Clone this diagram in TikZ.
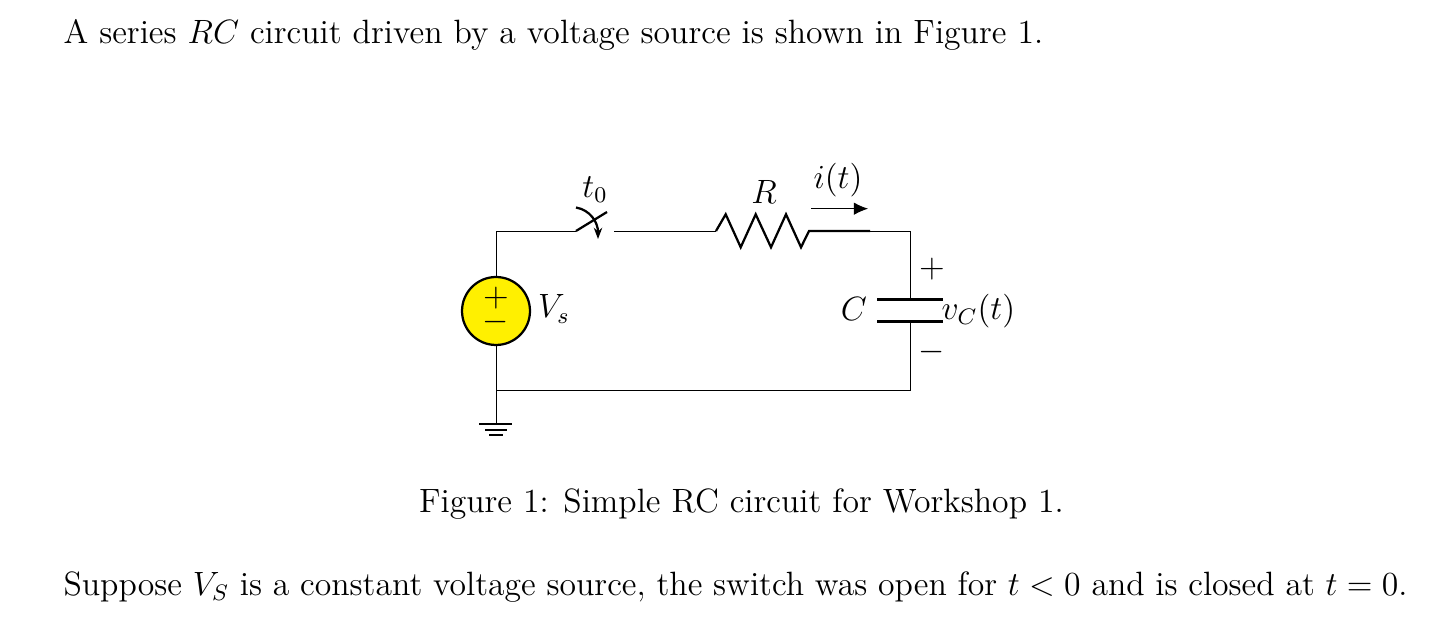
\documentclass[12pt,tikz,border=0pt]{standalone}
\usetikzlibrary{arrows.meta}
\definecolor{srcyellow}{RGB}{255,240,0}
\tikzset{
  wire/.style={line width=0.3pt},
  comp/.style={line width=0.8pt},
  txt/.style={anchor=base west,inner sep=0pt},
  lbl/.style={inner sep=0pt}
}
\begin{document}
\begin{tikzpicture}[x=0.356pt,y=-0.356pt]
  \useasboundingbox (0,0) rectangle (1443,617);
% TEXT LINES ==================================================================
  \node[txt] (intro) at (63,44) {A series $RC$ circuit driven by a voltage source is shown in Figure 1.};
  \node[txt] (caption) at (418.5,512) {Figure 1: Simple RC circuit for Workshop 1.};
  \node[txt] (outro) at (63,595) {\makebox[478.5pt][s]{Suppose $V_S$ is a constant voltage source, the switch was open for $t<0$ and is closed at $t=0$.}};

% CORNERS =====================================================================
  \coordinate (tl) at (496,231);
  \coordinate (tr) at (910,231);
  \coordinate (bl) at (496,390);
  \coordinate (br) at (910,390);
  \coordinate (swl) at (576,231);
  \coordinate (swarm) at (607,212);
  \coordinate (swr) at (614,231);
  \coordinate (resl) at (716,231);
  \coordinate (resr) at (809,231);
  \coordinate (wireend) at (870,231);
  \coordinate (capt) at (910,299.5);
  \coordinate (capb) at (910,321.5);
  \coordinate (gnd) at (496,424);

% SOURCE ======================================================================
  \node[circle,draw,comp,fill=srcyellow,minimum size=24.2pt,inner sep=0pt] (src) at (496,311) {};
  \node[lbl,anchor=base] (srcplus) at (496,306.4) {\smash{$+$}};
  \node[lbl,anchor=base] (srcminus) at (496,330.4) {\smash{$-$}};
  \node[lbl] (vs) at (554,309) {$V_s$};

% WIRES =======================================================================
  \draw[wire] (src) -- (tl) -- (swl);
  \draw[wire] (swr) -- (resl);
  \draw[wire] (wireend) -- (tr) -- (capt);
  \draw[wire] (capb) -- (br) -- (bl);
  \draw[wire] (src) -- (gnd);

% SWITCH ======================================================================
  \draw[comp] (swl) -- (swarm);
  \draw[comp,-{Stealth[length=4pt,width=3pt]}] (576,207.5) .. controls (590,210) and (598,222) .. (598,239);
  \node[lbl] (tzero) at (595,190) {$t_0$};

% RESISTOR ====================================================================
  \draw[comp] (resl) -- (725.7,214.3) -- (740.7,247.3) -- (755.7,214.3) -- (771,247.3)
    -- (786,214.3) -- (801,247.3) -- (resr) -- (wireend);
  \node[lbl] (rlabel) at (764,192) {$R$};
  \coordinate (curl) at (811,208.7);
  \coordinate (curr) at (868,208.7);
  \draw[wire,-{Latex[length=5pt,width=4.4pt]}] (curl) -- (curr);
  \node[lbl] (ilabel) at (838,180) {$i(t)$};

% CAPACITOR ===================================================================
  \draw[comp] (877,299.5) -- (943,299.5);
  \draw[comp] (877,321.5) -- (943,321.5);
  \node[lbl] (clabel) at (854,309) {$C$};
  \node[lbl,anchor=west] (vc) at (941,311) {$v_C(t)$};
  \node[lbl] (capplus) at (932,269) {$+$};
  \node[lbl] (capminus) at (932,352) {$-$};

% GROUND ======================================================================
  \draw[comp] (479,424) -- (512,424);
  \draw[comp] (485,430) -- (507,430);
  \draw[comp] (489,435) -- (503,435);
\end{tikzpicture}
\end{document}
